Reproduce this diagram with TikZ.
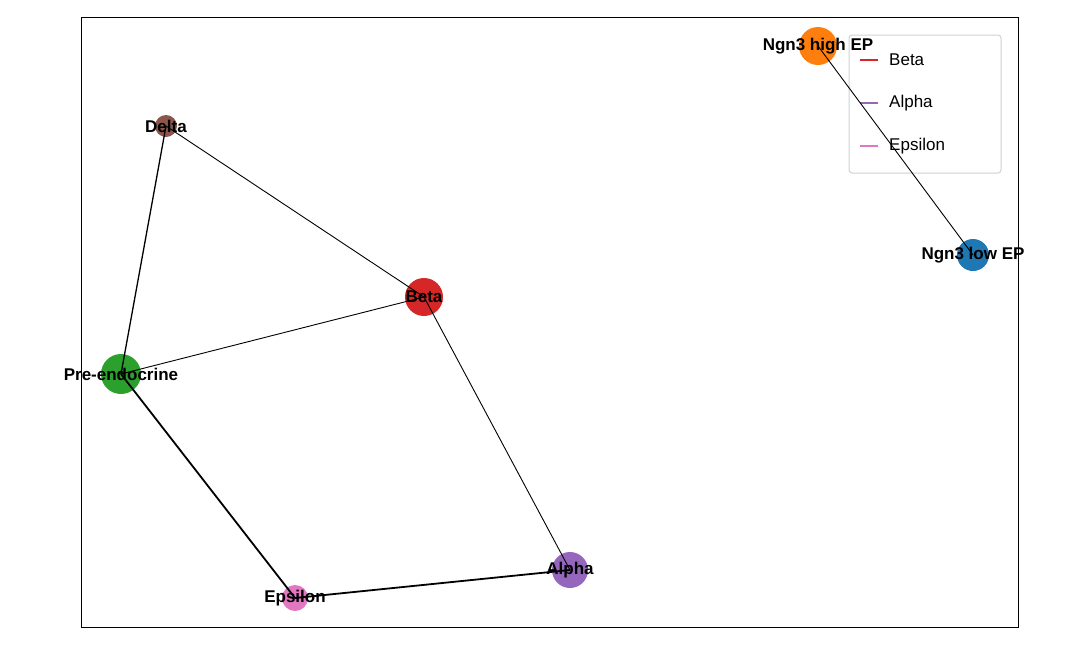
\documentclass[tikz,border=0pt]{standalone}
\usepackage{fontspec}
\setmainfont{Liberation Sans}
\begin{document}
\begin{tikzpicture}[x=1pt,y=-1pt,
  vert/.style={circle,inner sep=0pt,draw=none},
  lbl/.style={font=\fontsize{17}{17}\selectfont\bfseries,inner sep=0pt},
  edge/.style={draw=black,line width=0.9pt},
  leg/.style={font=\fontsize{17}{17}\selectfont,anchor=west,inner sep=0pt}]
\definecolor{cblue}{HTML}{1F77B4}\definecolor{corange}{HTML}{FF7F0E}
\definecolor{cgreen}{HTML}{2CA02C}\definecolor{cred}{HTML}{D62728}
\definecolor{cpurple}{HTML}{9467BD}\definecolor{cbrown}{HTML}{8C564B}
\definecolor{cpink}{HTML}{E377C2}
\useasboundingbox (0,0) rectangle (1087,657);
\draw[line width=1pt] (81,17) rectangle (1018,627);
% legend
\draw[rounded corners=3pt,draw=black!18,fill=white,line width=1pt] (849,35) rectangle (1001,173);
\coordinate (l1) at (860,60); \coordinate (l1e) at (878,60);
\coordinate (l2) at (860,103); \coordinate (l2e) at (878,103);
\coordinate (l3) at (860,146); \coordinate (l3e) at (878,146);
\draw[cred,line width=2pt] (l1) -- (l1e);
\draw[cpurple,line width=2pt] (l2) -- (l2e);
\draw[cpink,line width=2pt] (l3) -- (l3e);
\node[leg] (t1) at (889,60) {Beta};
\node[leg] (t2) at (889,103) {Alpha};
\node[leg] (t3) at (889,146) {Epsilon};
% vertices
\node[vert,fill=corange,minimum size=38pt] (hi) at (818,46) {};
\node[vert,fill=cblue,minimum size=32pt] (lo) at (973,255) {};
\node[vert,fill=cbrown,minimum size=22pt] (de) at (166,126) {};
\node[vert,fill=cred,minimum size=38pt] (be) at (424,297) {};
\node[vert,fill=cgreen,minimum size=40pt] (pr) at (121,374) {};
\node[vert,fill=cpink,minimum size=26pt] (ep) at (295,598) {};
\node[vert,fill=cpurple,minimum size=36pt] (al) at (570,570) {};
% edges
\draw[edge] (hi.center) -- (lo.center);
\draw[edge] (de.center) -- (be.center);
\draw[edge,line width=1.3pt] (de.center) -- (pr.center);
\draw[edge] (pr.center) -- (be.center);
\draw[edge,line width=1.8pt] (pr.center) -- (ep.center);
\draw[edge,line width=1.8pt] (ep.center) -- (al.center);
\draw[edge] (be.center) -- (al.center);
% labels
\node[lbl] at (hi) {Ngn3 high EP};
\node[lbl] at (lo) {Ngn3 low EP};
\node[lbl] at (de) {Delta};
\node[lbl] at (be) {Beta};
\node[lbl] at (pr) {Pre-endocrine};
\node[lbl] at (ep) {Epsilon};
\node[lbl] at (al) {Alpha};
\end{tikzpicture}
\end{document}
